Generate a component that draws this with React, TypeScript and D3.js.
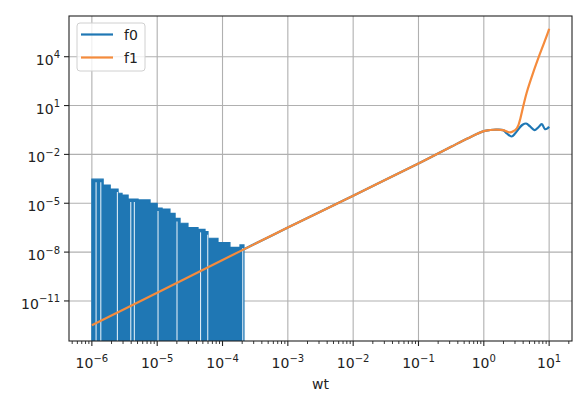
import React, { useEffect, useRef } from "react";
import * as d3 from "d3";

// f1: smooth curve
const f1X = [1e-6, 1e-5, 1e-4, 1e-3, 1e-2, 1e-1, 0.316, 0.562, 1, 1.25, 1.58, 1.97, 2.27, 2.52, 2.82, 3.2, 3.39, 3.63, 4.04, 4.54, 5.73, 7.26, 9.73, 10];
const f1Y = [3.2e-13, 3.2e-11, 3.3e-9, 3.2e-7, 2.9e-5, 2.75e-3, 0.0295, 0.0955, 0.269, 0.316, 0.331, 0.309, 0.251, 0.224, 0.263, 0.398, 0.631, 1.62, 10, 63, 1120, 1.58e4, 3.55e5, 5.25e5];

// f0: smooth part after the noisy region
const f0X = [2.13e-4, 1e-3, 1e-2, 1e-1, 0.316, 0.562, 1, 1.25, 1.58, 1.97, 2.27, 2.66, 3.01, 3.47, 3.92, 4.44, 5.11, 5.98, 6.76, 7.71, 8.65, 9.46, 10];
const f0Y = [1.5e-8, 3.2e-7, 2.9e-5, 2.75e-3, 0.0295, 0.0955, 0.269, 0.316, 0.331, 0.309, 0.19, 0.126, 0.19, 0.4, 0.66, 0.79, 0.525, 0.31, 0.44, 0.72, 0.355, 0.4, 0.5];

// f0: noisy region (upper envelope, the line drops below the axis in between)
const noiseX = [1e-6, 1.49e-6, 1.91e-6, 2.52e-6, 2.9e-6, 3.59e-6, 5.1e-6, 7.78e-6, 1.0e-5, 1.19e-5, 1.57e-5, 1.88e-5, 2.24e-5, 2.96e-5, 4.22e-5, 5.4e-5, 6.0e-5, 8.53e-5, 1.3e-4, 1.85e-4, 2.13e-4];
const noiseTop = [3.0e-4, 1.32e-4, 7.4e-5, 4.1e-5, 3.2e-5, 1.8e-5, 1.6e-5, 9.8e-6, 5.1e-6, 4.4e-6, 2.4e-6, 1.17e-6, 5.9e-7, 3.2e-7, 2.5e-7, 1.8e-7, 7.1e-8, 3.8e-8, 1.95e-8, 2.75e-8, 2.75e-8];
const noiseGapX = [1.16e-6, 1.37e-6, 2.46e-6, 3.94e-6, 4.47e-6, 1.03e-5, 2.01e-5, 4.61e-5, 5.94e-5, 2.04e-4];

const xTicks = [1e-6, 1e-5, 1e-4, 1e-3, 1e-2, 1e-1, 1e0, 1e1];
const xTickExp = ["−6", "−5", "−4", "−3", "−2", "−1", "0", "1"];
const yTicks = [1e4, 1e1, 1e-2, 1e-5, 1e-8, 1e-11];
const yTickExp = ["4", "1", "−2", "−5", "−8", "−11"];

const seriesNames = ["f0", "f1"];
const colors = ["#1f77b4", "#f58b3c"];

const width = 581;
const height = 397;
const margin = { top: 16, right: 9, bottom: 56, left: 69 };
const font = "DejaVu Sans, sans-serif";

export default function App() {
  const ref = useRef<SVGSVGElement>(null);

  useEffect(() => {
    const svg = d3.select(ref.current);
    svg.selectAll("*").remove();
    const w = width - margin.left - margin.right;
    const h = height - margin.top - margin.bottom;

    const x = d3.scaleLog().domain([Math.pow(10, -6.35), Math.pow(10, 1.35)]).range([0, w]);
    const y = d3.scaleLog().domain([Math.pow(10, -13.46), Math.pow(10, 6.5)]).range([h, 0]);

    svg.append("rect").attr("width", width).attr("height", height).attr("fill", "white");

    svg.append("defs").append("clipPath").attr("id", "plotclip")
      .append("rect").attr("width", w).attr("height", h);

    const g = svg.append("g").attr("transform", `translate(${margin.left},${margin.top})`);

    // grid
    g.selectAll(".gx").data(xTicks).enter().append("line")
      .attr("x1", (d) => x(d)).attr("x2", (d) => x(d)).attr("y1", 0).attr("y2", h)
      .attr("stroke", "#b0b0b0").attr("stroke-width", 1.1);
    g.selectAll(".gy").data(yTicks).enter().append("line")
      .attr("y1", (d) => y(d)).attr("y2", (d) => y(d)).attr("x1", 0).attr("x2", w)
      .attr("stroke", "#b0b0b0").attr("stroke-width", 1.1);

    const plot = g.append("g").attr("clip-path", "url(#plotclip)");

    // noisy part of f0
    const noise = noiseX.map((d, i) => [d, noiseTop[i]] as [number, number]);
    const area = d3.area<[number, number]>()
      .x((d) => x(d[0])).y0(h + 5).y1((d) => y(d[1]))
      .curve(d3.curveStepAfter);
    plot.append("path").attr("d", area(noise)).attr("fill", colors[0])
      .attr("stroke", colors[0]).attr("stroke-width", 1.2);

    const envelope = (v: number) => {
      const i = Math.max(0, d3.bisectRight(noiseX, v) - 1);
      return noiseTop[i];
    };
    plot.selectAll(".gap").data(noiseGapX).enter().append("line")
      .attr("x1", (d) => x(d)).attr("x2", (d) => x(d))
      .attr("y1", h).attr("y2", (d) => y(envelope(d)) + 3)
      .attr("stroke", "#dcebf6").attr("stroke-width", 1.1);

    const line = d3.line<[number, number]>()
      .x((d) => x(d[0])).y((d) => y(d[1]))
      .curve(d3.curveCatmullRom.alpha(0.5));

    plot.append("path").datum(f0X.map((d, i) => [d, f0Y[i]] as [number, number]))
      .attr("d", line).attr("fill", "none").attr("stroke", colors[0]).attr("stroke-width", 2.2);
    plot.append("path").datum(f1X.map((d, i) => [d, f1Y[i]] as [number, number]))
      .attr("d", line).attr("fill", "none").attr("stroke", colors[1]).attr("stroke-width", 2.2);

    // spines
    g.append("rect").attr("width", w).attr("height", h).attr("fill", "none")
      .attr("stroke", "#222").attr("stroke-width", 1.1);

    // x ticks
    const minor: number[] = [];
    for (let e = -7; e <= 1; e++) {
      for (let k = 2; k <= 9; k++) {
        const v = k * Math.pow(10, e);
        if (v > x.domain()[0] && v < x.domain()[1]) minor.push(v);
      }
    }
    g.selectAll(".mx").data(minor).enter().append("line")
      .attr("x1", (d) => x(d)).attr("x2", (d) => x(d)).attr("y1", h).attr("y2", h + 3)
      .attr("stroke", "#222").attr("stroke-width", 0.9);
    g.selectAll(".tx").data(xTicks).enter().append("line")
      .attr("x1", (d) => x(d)).attr("x2", (d) => x(d)).attr("y1", h).attr("y2", h + 5)
      .attr("stroke", "#222").attr("stroke-width", 1.1);
    const xl = g.selectAll(".xl").data(xTicks).enter().append("text")
      .attr("x", (d) => x(d)).attr("y", h + 27)
      .attr("text-anchor", "middle").attr("font-family", font).attr("font-size", 14).attr("fill", "#222");
    xl.append("tspan").text("10");
    xl.append("tspan").attr("dy", -6.5).attr("font-size", 10).text((d, i) => xTickExp[i]);

    // y ticks
    g.selectAll(".ty").data(yTicks).enter().append("line")
      .attr("y1", (d) => y(d)).attr("y2", (d) => y(d)).attr("x1", -5).attr("x2", 0)
      .attr("stroke", "#222").attr("stroke-width", 1.1);
    const yl = g.selectAll(".yl").data(yTicks).enter().append("text")
      .attr("x", -9).attr("y", (d) => y(d) + 8)
      .attr("text-anchor", "end").attr("font-family", font).attr("font-size", 14).attr("fill", "#222");
    yl.append("tspan").text("10");
    yl.append("tspan").attr("dy", -6.5).attr("font-size", 10).text((d, i) => yTickExp[i]);

    g.append("text").attr("x", w / 2).attr("y", h + 48).attr("text-anchor", "middle")
      .attr("font-family", font).attr("font-size", 14).attr("fill", "#222").text("wt");

    // legend
    const lg = g.append("g").attr("transform", "translate(8,7)");
    lg.append("rect").attr("width", 68).attr("height", 48).attr("rx", 3)
      .attr("fill", "white").attr("fill-opacity", 0.8).attr("stroke", "#d0d0d0");
    seriesNames.forEach((name, i) => {
      const yy = 11.5 + i * 23;
      lg.append("line").attr("x1", 4).attr("x2", 36).attr("y1", yy).attr("y2", yy)
        .attr("stroke", colors[i]).attr("stroke-width", 2.2);
      lg.append("text").attr("x", 47).attr("y", yy + 5).attr("font-family", font)
        .attr("font-size", 14).attr("fill", "#222").text(name);
    });
  }, []);

  return (
    <svg ref={ref} width={width} height={height} style={{ position: "absolute", left: 0, top: 0 }}></svg>
  );
}
